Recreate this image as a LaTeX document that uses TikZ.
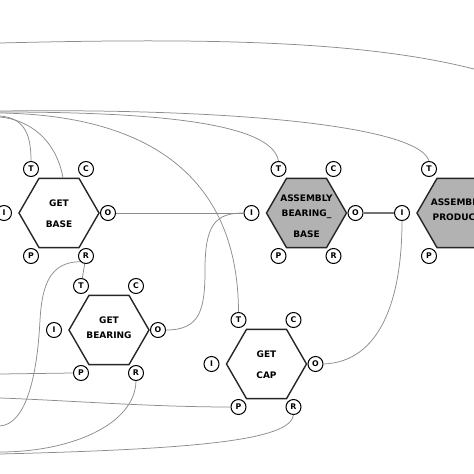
\documentclass[tikz,border=0pt]{standalone}
\usepackage{fontspec}
\setmainfont{DejaVu Sans}
\usetikzlibrary{shapes.geometric}
\newcommand\mkports[4]{% name, cx, cy, list
  \foreach \lab/\dx/\dy in {#4}{
    \node[port] (#1\lab) at (#2+\dx,#3+\dy) {\lab};
  }}
\begin{document}
\begin{tikzpicture}[x=1pt,y=-1pt,
  hexbox/.style={regular polygon,regular polygon sides=6,minimum size=80pt,inner sep=0pt,draw=black!85,line width=1.4pt},
  hexfill/.style={fill=gray!60},
  hextext/.style={font=\bfseries\fontsize{9}{#1}\selectfont,align=center,inner sep=0pt},
  hextext/.default=21,
  port/.style={circle,draw=black,line width=1pt,fill=white,minimum size=15pt,inner sep=0pt,font=\bfseries\fontsize{7.8}{8}\selectfont},
  wire/.style={draw=black!45,line width=0.75pt},
  thickwire/.style={draw=black!55,line width=1.4pt}]
\useasboundingbox (0,0) rectangle (474,474);
\clip (0,0) rectangle (474,474);

% hexagons
\node[hexbox] (base) at (59,213) {};
\node[hexbox] (bear) at (109,330) {};
\node[hexbox] (cap) at (266.5,364) {};
\node[hexbox,hexfill] (abb) at (306.5,213) {};
\node[hexbox,hexfill] (ap) at (457,213) {};

% labels
\node[hextext] (baseL) at (59,213.5) {GET\\BASE};
\node[hextext=15] (bearL) at (109,327.5) {GET\\BEARING};
\node[hextext] (capL) at (266.5,364.5) {GET\\CAP};
\node[hextext=15] (abbL) at (306.5,216) {ASSEMBLY\\BEARING\_\\[6pt]BASE};
\node[hextext=15] (apL) at (457,209.5) {ASSEMBLY\\PRODUCT};

% ports
\mkports{base}{59}{213}{T/-28/-44,C/27/-44,I/-55/0,O/49/0,P/-28/43,R/27/43}
\mkports{bear}{109}{330}{T/-28/-44,C/27/-44,I/-55/0,O/49/0,P/-28/43,R/27/43}
\mkports{cap}{266.5}{364}{T/-28/-44,C/27/-44,I/-55/0,O/49/0,P/-28/43,R/27/43}
\mkports{abb}{306.5}{213}{T/-28/-44,C/27/-44,I/-55/0,O/49/0,P/-28/43,R/27/43}
\mkports{ap}{457}{213}{T/-28/-44,I/-55/0,P/-28/43}

% free ends
\coordinate (Ltop) at (0,43);
\coordinate (Rtop) at (474,69);
\coordinate (La) at (0,111);
\coordinate (Lb) at (0,112);
\coordinate (Lc) at (0,113);
\coordinate (Ld) at (0,116);
\coordinate (Le) at (0,117);
\coordinate (Lf) at (0,426);
\coordinate (Lg) at (0,374);
\coordinate (Lh) at (0,398);
\coordinate (Li) at (0,452);
\coordinate (Lj) at (0,454);

% wires
\draw[wire] (Ltop) .. controls (200,38) and (360,40) .. (Rtop);
\draw[wire] (La) .. controls (250,108) and (420,128) .. (apT.north);
\draw[wire] (Lb) .. controls (150,112) and (272,122) .. (abbT.north);
\draw[wire] (Lc) .. controls (140,115) and (238,170) .. (capT.north);
\draw[wire] (Ld) .. controls (25,118) and (31,135) .. (baseT.north);
\draw[wire] (Le) .. controls (30,120) and (56,140) .. ([xshift=4pt]base.north);
\draw[wire] (baseO) -- (abbI);
\draw[wire] (bearO.east) .. controls (200,330) and (205,310) .. (205,270)
  .. controls (205,225) and (215,213) .. (abbI.west);
\draw[thickwire] (abbO) -- (apI);
\draw[wire] (capO.east) .. controls (380,362) and (402,300) .. (apI.south);
\draw[wire] (baseR) -- (bearT);
\draw[wire] (baseR.south west) .. controls (50,262) and (42,285) .. (40,320)
  .. controls (37,380) and (25,424) .. (Lf);
\draw[wire] (bearP.west) -- (Lg);
\draw[wire] (capP.west) .. controls (150,407) and (60,400) .. (Lh);
\draw[wire] (bearR.south) .. controls (135,425) and (70,452) .. (Li);
\draw[wire] (capR.south) .. controls (290,440) and (200,449) .. (Lj);
\end{tikzpicture}
\end{document}
